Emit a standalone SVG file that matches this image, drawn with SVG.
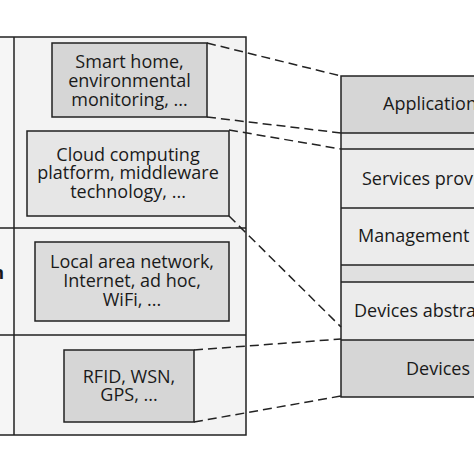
<svg xmlns="http://www.w3.org/2000/svg" width="474" height="474" viewBox="0 0 474 474">
<style>
.ln{stroke:#222;stroke-width:1.5;fill:none}
.box{stroke:#222;stroke-width:1.5}
.t{font-family:"Open Sans","Noto Sans",sans-serif;font-size:18px;fill:#1a1a1a}
.c{text-anchor:middle}
.dash{stroke:#222;stroke-width:1.5;stroke-dasharray:9 5;fill:none}
</style>
<rect width="474" height="474" fill="#fff"/>
<g id="left-panel">
<rect x="0" y="37" width="246" height="398" fill="#f3f3f3"/>
<rect x="0" y="37" width="14" height="398" fill="#f6f6f6"/>
<path class="ln" d="M0 37H246V435H0M14 37V435M0 228H246M0 335H246"/>
<text class="t" x="4" y="279" text-anchor="end" font-weight="bold">n</text>
</g>
<g id="node-smart">
<rect class="box" x="52" y="43" width="155" height="74" fill="#d6d6d6"/>
<text class="t c" x="129.5" y="68">Smart home,</text>
<text class="t c" x="129.5" y="87">environmental</text>
<text class="t c" x="129.5" y="106">monitoring, ...</text>
</g>
<g id="node-cloud">
<rect class="box" x="27" y="131" width="202" height="85" fill="#e6e6e6"/>
<text class="t c" x="128" y="161">Cloud computing</text>
<text class="t c" x="128" y="179">platform, middleware</text>
<text class="t c" x="128" y="198">technology, ...</text>
</g>
<g id="node-lan">
<rect class="box" x="35" y="242" width="194" height="79" fill="#dcdcdc"/>
<text class="t c" x="132" y="268">Local area network,</text>
<text class="t c" x="132" y="287">Internet, ad hoc,</text>
<text class="t c" x="132" y="306">WiFi, ...</text>
</g>
<g id="node-rfid">
<rect class="box" x="64" y="350" width="130" height="72" fill="#d6d6d6"/>
<text class="t c" x="129" y="383">RFID, WSN,</text>
<text class="t c" x="129" y="401">GPS, ...</text>
</g>
<g id="node-stack">
<rect x="341" y="76" width="140" height="57" fill="#d6d6d6"/>
<rect x="341" y="133" width="140" height="16" fill="#e8e8e8"/>
<rect x="341" y="149" width="140" height="59" fill="#ececec"/>
<rect x="341" y="208" width="140" height="57" fill="#ececec"/>
<rect x="341" y="265" width="140" height="17" fill="#e0e0e0"/>
<rect x="341" y="282" width="140" height="58" fill="#ececec"/>
<rect x="341" y="340" width="140" height="57" fill="#d6d6d6"/>
<path class="ln" d="M474 76H341V397H474M341 133H474M341 149H474M341 208H474M341 265H474M341 282H474M341 340H474"/>
<text class="t" x="383" y="110">Application</text>
<text class="t" x="362" y="185">Services provi</text>
<text class="t" x="358" y="242">Management</text>
<text class="t" x="354" y="317">Devices abstra</text>
<text class="t" x="406" y="375">Devices</text>
</g>
<g id="connectors">
<path class="dash" d="M207 43L341 76"/>
<path class="dash" d="M207 117L341 133"/>
<path class="dash" d="M229 130L341 149"/>
<path class="dash" d="M229 216L341 327"/>
<path class="dash" d="M194 350L341 339"/>
<path class="dash" d="M194 422L341 396"/>
</g>
</svg>
